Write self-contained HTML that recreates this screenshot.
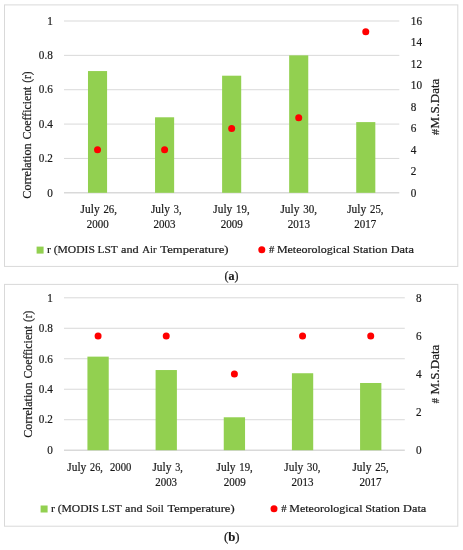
<!DOCTYPE html>
<html><head><meta charset="utf-8"><title>Figure</title>
<style>
html,body{margin:0;padding:0;background:#fff;}
svg{display:block;}
text{font-family:"Liberation Serif",serif;fill:#1a1a1a;stroke:#1a1a1a;stroke-width:0.2px;}
</style></head><body>
<svg width="463" height="550" viewBox="0 0 463 550">
<rect width="463" height="550" fill="#fff"/>

<rect x="4.5" y="4.9" width="453.3" height="261.5" fill="#fff" stroke="#d9d9d9" stroke-width="1"/>
<line x1="64" x2="399.3" y1="192.80" y2="192.80" stroke="#d9d9d9" stroke-width="1.5"/>
<line x1="64" x2="399.3" y1="158.44" y2="158.44" stroke="#d9d9d9" stroke-width="1"/>
<line x1="64" x2="399.3" y1="124.08" y2="124.08" stroke="#d9d9d9" stroke-width="1"/>
<line x1="64" x2="399.3" y1="89.72" y2="89.72" stroke="#d9d9d9" stroke-width="1"/>
<line x1="64" x2="399.3" y1="55.36" y2="55.36" stroke="#d9d9d9" stroke-width="1"/>
<line x1="64" x2="399.3" y1="21.00" y2="21.00" stroke="#d9d9d9" stroke-width="1"/>
<rect x="87.98" y="71.06" width="19.1" height="121.74" fill="#92d050"/>
<rect x="155.04" y="117.29" width="19.1" height="75.51" fill="#92d050"/>
<rect x="222.10" y="75.70" width="19.1" height="117.10" fill="#92d050"/>
<rect x="289.16" y="55.36" width="19.1" height="137.44" fill="#92d050"/>
<rect x="356.22" y="122.10" width="19.1" height="70.70" fill="#92d050"/>
<circle cx="97.53" cy="149.85" r="3.5" fill="#ff0000"/>
<circle cx="164.59" cy="149.85" r="3.5" fill="#ff0000"/>
<circle cx="231.65" cy="128.38" r="3.5" fill="#ff0000"/>
<circle cx="298.71" cy="117.64" r="3.5" fill="#ff0000"/>
<circle cx="365.77" cy="31.74" r="3.5" fill="#ff0000"/>
<text x="47.20" y="196.55" font-size="11.5" textLength="5.60" lengthAdjust="spacingAndGlyphs" xml:space="preserve">0</text>
<text x="38.80" y="162.19" font-size="11.5" textLength="14.00" lengthAdjust="spacingAndGlyphs" xml:space="preserve">0.2</text>
<text x="38.80" y="127.83" font-size="11.5" textLength="14.00" lengthAdjust="spacingAndGlyphs" xml:space="preserve">0.4</text>
<text x="38.80" y="93.47" font-size="11.5" textLength="14.00" lengthAdjust="spacingAndGlyphs" xml:space="preserve">0.6</text>
<text x="38.80" y="59.11" font-size="11.5" textLength="14.00" lengthAdjust="spacingAndGlyphs" xml:space="preserve">0.8</text>
<text x="47.20" y="24.75" font-size="11.5" textLength="5.60" lengthAdjust="spacingAndGlyphs" xml:space="preserve">1</text>
<text x="410.80" y="196.55" font-size="11.5" textLength="5.60" lengthAdjust="spacingAndGlyphs" xml:space="preserve">0</text>
<text x="410.80" y="175.08" font-size="11.5" textLength="5.60" lengthAdjust="spacingAndGlyphs" xml:space="preserve">2</text>
<text x="410.80" y="153.60" font-size="11.5" textLength="5.60" lengthAdjust="spacingAndGlyphs" xml:space="preserve">4</text>
<text x="410.80" y="132.12" font-size="11.5" textLength="5.60" lengthAdjust="spacingAndGlyphs" xml:space="preserve">6</text>
<text x="410.80" y="110.65" font-size="11.5" textLength="5.60" lengthAdjust="spacingAndGlyphs" xml:space="preserve">8</text>
<text x="410.80" y="89.18" font-size="11.5" textLength="11.20" lengthAdjust="spacingAndGlyphs" xml:space="preserve">10</text>
<text x="410.80" y="67.70" font-size="11.5" textLength="11.20" lengthAdjust="spacingAndGlyphs" xml:space="preserve">12</text>
<text x="410.80" y="46.22" font-size="11.5" textLength="11.20" lengthAdjust="spacingAndGlyphs" xml:space="preserve">14</text>
<text x="410.80" y="24.75" font-size="11.5" textLength="11.20" lengthAdjust="spacingAndGlyphs" xml:space="preserve">16</text>
<text transform="translate(31.30,0) rotate(-90)" y="0" font-size="12.5"><tspan x="-198.70" font-size="12.5" textLength="55.30" lengthAdjust="spacingAndGlyphs">Correlation</tspan> <tspan x="-139.50" font-size="12.5" textLength="52.90" lengthAdjust="spacingAndGlyphs">Coefficient</tspan> <tspan x="-82.80" font-size="12.5" textLength="11.20" lengthAdjust="spacingAndGlyphs">(r)</tspan></text>
<text transform="translate(438.80,0) rotate(-90)" y="0" font-size="12.5"><tspan x="-135.10" font-size="10.5" textLength="6.00" lengthAdjust="spacingAndGlyphs">#</tspan> <tspan x="-128.40" font-size="12.5" textLength="49.70" lengthAdjust="spacingAndGlyphs">M.S.Data</tspan></text>
<text y="213.40" font-size="11.2"><tspan x="80.60" font-size="12" textLength="19.00" lengthAdjust="spacingAndGlyphs">July</tspan> <tspan x="103.40" font-size="11.5" textLength="13.50" lengthAdjust="spacingAndGlyphs">26,</tspan></text>
<text x="86.80" y="228.20" font-size="11.5" textLength="21.90" lengthAdjust="spacingAndGlyphs" xml:space="preserve">2000</text>
<text y="213.40" font-size="11.2"><tspan x="150.90" font-size="12" textLength="19.00" lengthAdjust="spacingAndGlyphs">July</tspan> <tspan x="173.70" font-size="11.5" textLength="7.80" lengthAdjust="spacingAndGlyphs">3,</tspan></text>
<text x="153.60" y="228.20" font-size="11.5" textLength="22.00" lengthAdjust="spacingAndGlyphs" xml:space="preserve">2003</text>
<text y="213.40" font-size="11.2"><tspan x="213.30" font-size="12" textLength="19.00" lengthAdjust="spacingAndGlyphs">July</tspan> <tspan x="236.10" font-size="11.5" textLength="13.50" lengthAdjust="spacingAndGlyphs">19,</tspan></text>
<text x="220.70" y="228.20" font-size="11.5" textLength="22.20" lengthAdjust="spacingAndGlyphs" xml:space="preserve">2009</text>
<text y="213.40" font-size="11.2"><tspan x="280.40" font-size="12" textLength="19.00" lengthAdjust="spacingAndGlyphs">July</tspan> <tspan x="303.20" font-size="11.5" textLength="13.80" lengthAdjust="spacingAndGlyphs">30,</tspan></text>
<text x="287.70" y="228.20" font-size="11.5" textLength="22.30" lengthAdjust="spacingAndGlyphs" xml:space="preserve">2013</text>
<text y="213.40" font-size="11.2"><tspan x="347.20" font-size="12" textLength="19.00" lengthAdjust="spacingAndGlyphs">July</tspan> <tspan x="370.00" font-size="11.5" textLength="13.50" lengthAdjust="spacingAndGlyphs">25,</tspan></text>
<text x="354.30" y="228.20" font-size="11.5" textLength="22.00" lengthAdjust="spacingAndGlyphs" xml:space="preserve">2017</text>
<rect x="36.6" y="246.6" width="7" height="7" fill="#92d050"/>
<text y="253.10" font-size="11.2"><tspan x="46.90" font-size="11.2" textLength="4.00" lengthAdjust="spacingAndGlyphs">r</tspan> <tspan x="53.70" font-size="11.2" textLength="41.20" lengthAdjust="spacingAndGlyphs">(MODIS</tspan> <tspan x="97.60" font-size="11.2" textLength="20.00" lengthAdjust="spacingAndGlyphs">LST</tspan> <tspan x="121.00" font-size="11.2" textLength="17.70" lengthAdjust="spacingAndGlyphs">and</tspan> <tspan x="142.20" font-size="11.2" textLength="14.30" lengthAdjust="spacingAndGlyphs">Air</tspan> <tspan x="160.30" font-size="11.2" textLength="68.30" lengthAdjust="spacingAndGlyphs">Temperature)</tspan></text>
<circle cx="261.8" cy="249.7" r="3.5" fill="#ff0000"/>
<text y="253.10" font-size="11.2"><tspan x="268.90" font-size="9.5" textLength="5.30" lengthAdjust="spacingAndGlyphs">#</tspan> <tspan x="276.90" font-size="11.2" textLength="73.20" lengthAdjust="spacingAndGlyphs">Meteorological</tspan> <tspan x="352.90" font-size="11.2" textLength="34.70" lengthAdjust="spacingAndGlyphs">Station</tspan> <tspan x="390.70" font-size="11.2" textLength="23.20" lengthAdjust="spacingAndGlyphs">Data</tspan></text>
<text x="224.6" y="280.1" font-size="12" textLength="14.00" lengthAdjust="spacingAndGlyphs">(<tspan font-weight="bold">a</tspan>)</text>
<rect x="4.5" y="284.4" width="453.3" height="241.80000000000007" fill="#fff" stroke="#d9d9d9" stroke-width="1"/>
<line x1="64" x2="404.8" y1="450.20" y2="450.20" stroke="#d9d9d9" stroke-width="1.5"/>
<line x1="64" x2="404.8" y1="419.72" y2="419.72" stroke="#d9d9d9" stroke-width="1"/>
<line x1="64" x2="404.8" y1="389.24" y2="389.24" stroke="#d9d9d9" stroke-width="1"/>
<line x1="64" x2="404.8" y1="358.76" y2="358.76" stroke="#d9d9d9" stroke-width="1"/>
<line x1="64" x2="404.8" y1="328.28" y2="328.28" stroke="#d9d9d9" stroke-width="1"/>
<line x1="64" x2="404.8" y1="297.80" y2="297.80" stroke="#d9d9d9" stroke-width="1"/>
<rect x="87.43" y="356.63" width="21.3" height="93.57" fill="#92d050"/>
<rect x="155.59" y="370.04" width="21.3" height="80.16" fill="#92d050"/>
<rect x="223.75" y="417.28" width="21.3" height="32.92" fill="#92d050"/>
<rect x="291.91" y="373.24" width="21.3" height="76.96" fill="#92d050"/>
<rect x="360.07" y="382.99" width="21.3" height="67.21" fill="#92d050"/>
<circle cx="98.08" cy="335.90" r="3.5" fill="#ff0000"/>
<circle cx="166.24" cy="335.90" r="3.5" fill="#ff0000"/>
<circle cx="234.40" cy="374.00" r="3.5" fill="#ff0000"/>
<circle cx="302.56" cy="335.90" r="3.5" fill="#ff0000"/>
<circle cx="370.72" cy="335.90" r="3.5" fill="#ff0000"/>
<text x="47.20" y="453.95" font-size="11.5" textLength="5.60" lengthAdjust="spacingAndGlyphs" xml:space="preserve">0</text>
<text x="38.80" y="423.47" font-size="11.5" textLength="14.00" lengthAdjust="spacingAndGlyphs" xml:space="preserve">0.2</text>
<text x="38.80" y="392.99" font-size="11.5" textLength="14.00" lengthAdjust="spacingAndGlyphs" xml:space="preserve">0.4</text>
<text x="38.80" y="362.51" font-size="11.5" textLength="14.00" lengthAdjust="spacingAndGlyphs" xml:space="preserve">0.6</text>
<text x="38.80" y="332.03" font-size="11.5" textLength="14.00" lengthAdjust="spacingAndGlyphs" xml:space="preserve">0.8</text>
<text x="47.20" y="301.55" font-size="11.5" textLength="5.60" lengthAdjust="spacingAndGlyphs" xml:space="preserve">1</text>
<text x="416.00" y="453.95" font-size="11.5" textLength="5.60" lengthAdjust="spacingAndGlyphs" xml:space="preserve">0</text>
<text x="416.00" y="415.85" font-size="11.5" textLength="5.60" lengthAdjust="spacingAndGlyphs" xml:space="preserve">2</text>
<text x="416.00" y="377.75" font-size="11.5" textLength="5.60" lengthAdjust="spacingAndGlyphs" xml:space="preserve">4</text>
<text x="416.00" y="339.65" font-size="11.5" textLength="5.60" lengthAdjust="spacingAndGlyphs" xml:space="preserve">6</text>
<text x="416.00" y="301.55" font-size="11.5" textLength="5.60" lengthAdjust="spacingAndGlyphs" xml:space="preserve">8</text>
<text transform="translate(31.80,0) rotate(-90)" y="0" font-size="12.5"><tspan x="-437.80" font-size="12.5" textLength="55.30" lengthAdjust="spacingAndGlyphs">Correlation</tspan> <tspan x="-378.60" font-size="12.5" textLength="52.90" lengthAdjust="spacingAndGlyphs">Coefficient</tspan> <tspan x="-321.90" font-size="12.5" textLength="11.20" lengthAdjust="spacingAndGlyphs">(r)</tspan></text>
<text transform="translate(438.80,0) rotate(-90)" y="0" font-size="12.5"><tspan x="-403.30" font-size="9.5" textLength="5.10" lengthAdjust="spacingAndGlyphs">#</tspan> <tspan x="-394.50" font-size="12.5" textLength="49.90" lengthAdjust="spacingAndGlyphs">M.S.Data</tspan></text>
<text y="470.80" font-size="11.2"><tspan x="67.30" font-size="12" textLength="19.00" lengthAdjust="spacingAndGlyphs">July</tspan> <tspan x="90.10" font-size="11.5" textLength="12.70" lengthAdjust="spacingAndGlyphs">26,</tspan></text>
<text x="110.00" y="470.80" font-size="11.5" textLength="21.30" lengthAdjust="spacingAndGlyphs" xml:space="preserve">2000</text>
<text y="470.80" font-size="11.2"><tspan x="152.40" font-size="12" textLength="19.00" lengthAdjust="spacingAndGlyphs">July</tspan> <tspan x="175.20" font-size="11.5" textLength="7.60" lengthAdjust="spacingAndGlyphs">3,</tspan></text>
<text x="155.20" y="485.70" font-size="11.5" textLength="21.90" lengthAdjust="spacingAndGlyphs" xml:space="preserve">2003</text>
<text y="470.80" font-size="11.2"><tspan x="216.50" font-size="12" textLength="19.00" lengthAdjust="spacingAndGlyphs">July</tspan> <tspan x="239.30" font-size="11.5" textLength="13.50" lengthAdjust="spacingAndGlyphs">19,</tspan></text>
<text x="223.70" y="485.70" font-size="11.5" textLength="22.10" lengthAdjust="spacingAndGlyphs" xml:space="preserve">2009</text>
<text y="470.80" font-size="11.2"><tspan x="284.30" font-size="12" textLength="19.00" lengthAdjust="spacingAndGlyphs">July</tspan> <tspan x="307.10" font-size="11.5" textLength="13.40" lengthAdjust="spacingAndGlyphs">30,</tspan></text>
<text x="291.50" y="485.70" font-size="11.5" textLength="22.00" lengthAdjust="spacingAndGlyphs" xml:space="preserve">2013</text>
<text y="470.80" font-size="11.2"><tspan x="352.40" font-size="12" textLength="19.00" lengthAdjust="spacingAndGlyphs">July</tspan> <tspan x="375.20" font-size="11.5" textLength="13.50" lengthAdjust="spacingAndGlyphs">25,</tspan></text>
<text x="359.40" y="485.70" font-size="11.5" textLength="22.10" lengthAdjust="spacingAndGlyphs" xml:space="preserve">2017</text>
<rect x="40.6" y="505.5" width="7" height="7" fill="#92d050"/>
<text y="512.10" font-size="11.2"><tspan x="50.90" font-size="11.2" textLength="4.00" lengthAdjust="spacingAndGlyphs">r</tspan> <tspan x="57.70" font-size="11.2" textLength="41.20" lengthAdjust="spacingAndGlyphs">(MODIS</tspan> <tspan x="101.60" font-size="11.2" textLength="20.00" lengthAdjust="spacingAndGlyphs">LST</tspan> <tspan x="125.00" font-size="11.2" textLength="17.60" lengthAdjust="spacingAndGlyphs">and</tspan> <tspan x="146.30" font-size="11.2" textLength="17.40" lengthAdjust="spacingAndGlyphs">Soil</tspan> <tspan x="167.40" font-size="11.2" textLength="67.20" lengthAdjust="spacingAndGlyphs">Temperature)</tspan></text>
<circle cx="274.0" cy="508.7" r="3.5" fill="#ff0000"/>
<text y="512.10" font-size="11.2"><tspan x="281.30" font-size="9.5" textLength="5.30" lengthAdjust="spacingAndGlyphs">#</tspan> <tspan x="289.30" font-size="11.2" textLength="73.20" lengthAdjust="spacingAndGlyphs">Meteorological</tspan> <tspan x="365.30" font-size="11.2" textLength="34.70" lengthAdjust="spacingAndGlyphs">Station</tspan> <tspan x="403.10" font-size="11.2" textLength="23.20" lengthAdjust="spacingAndGlyphs">Data</tspan></text>
<text x="223.9" y="541.1" font-size="12" textLength="15.70" lengthAdjust="spacingAndGlyphs">(<tspan font-weight="bold">b</tspan>)</text>
</svg></body></html>
